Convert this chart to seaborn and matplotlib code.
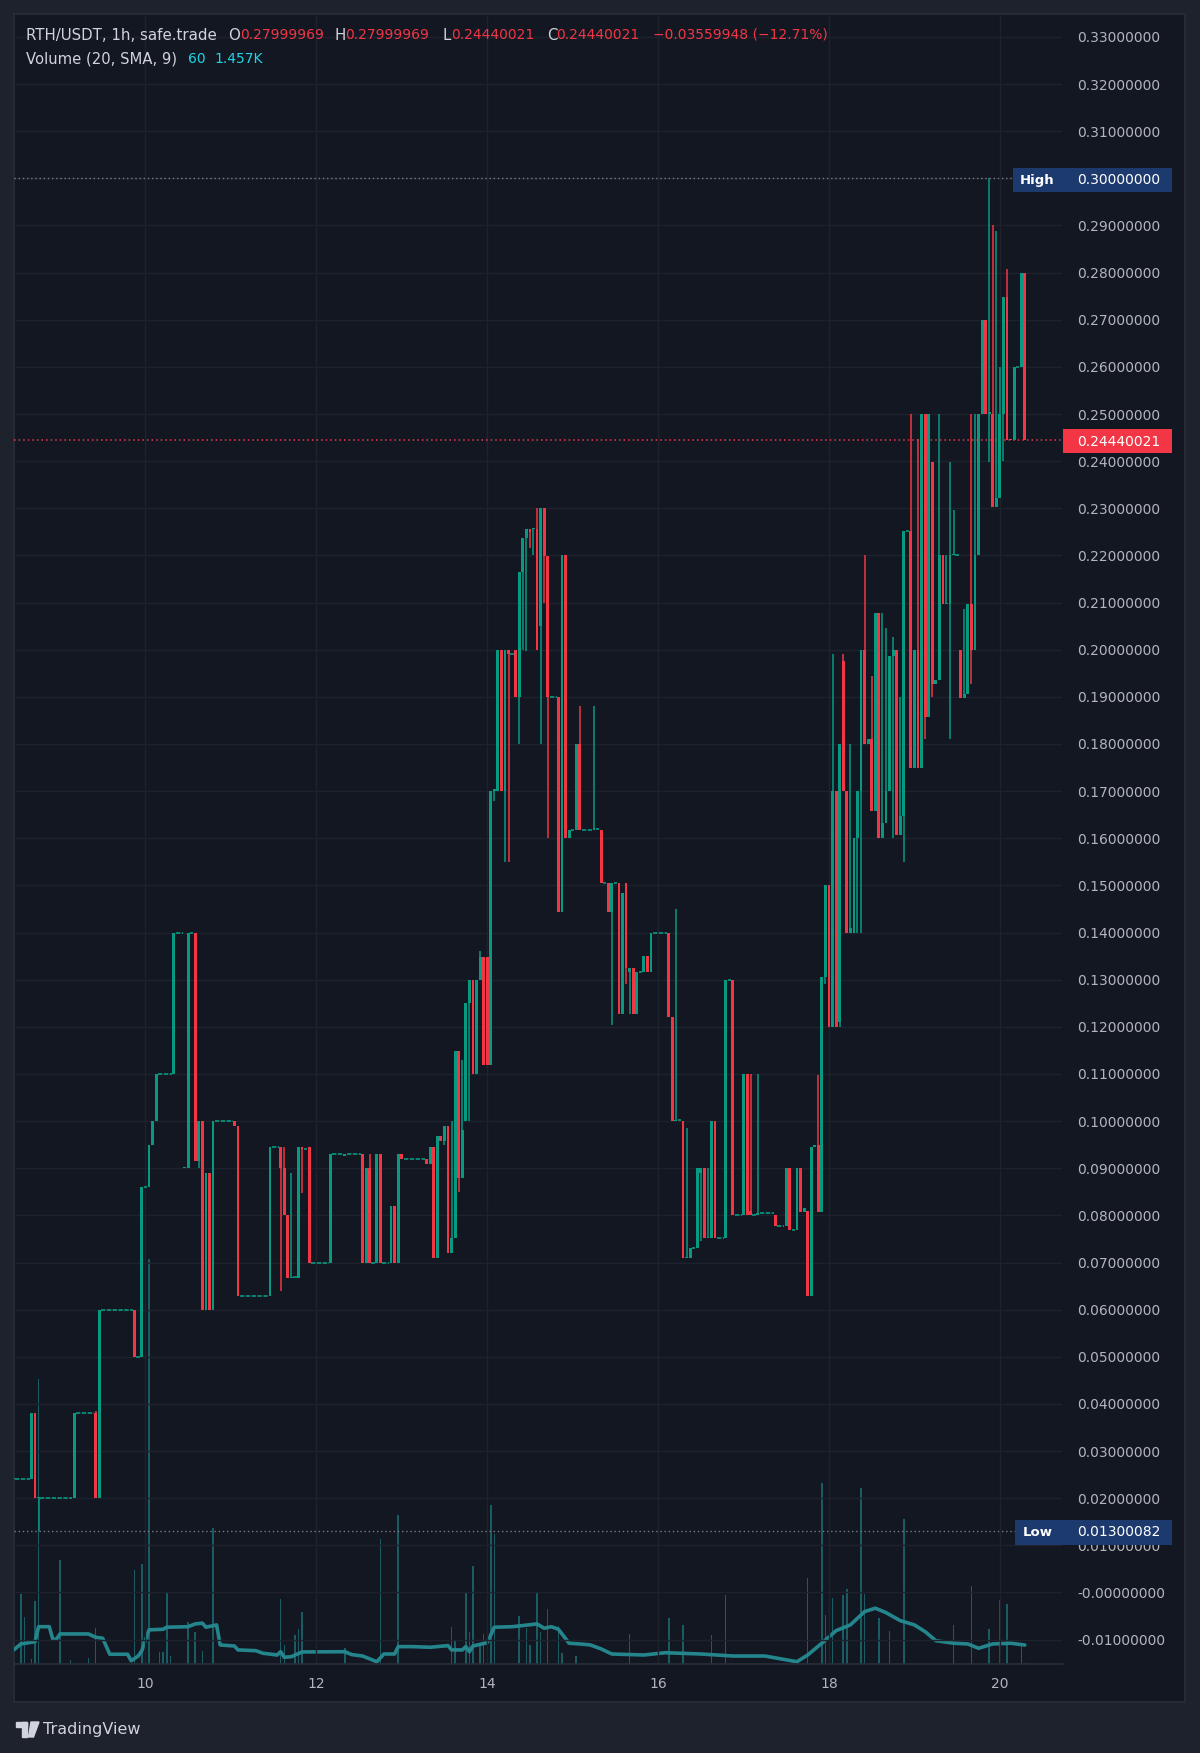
import numpy as np
import pandas as pd
import matplotlib.pyplot as plt
import seaborn as sns
from matplotlib.patches import Rectangle, Polygon

# ---- data (hours counted from day 10, 00:00) ----
candle_hour = [-37, -32, -31, -30, -20, -14, -13, -3, -1, 1, 2, 3, 8, 11, 12, 14, 15, 16, 17, 18, 19,
               25, 26, 35, 38, 39, 40, 41, 43, 44, 46, 52, 56, 61, 62, 63, 65, 66, 69, 70, 71, 72,
               79, 80, 81, 82, 83, 84, 85, 86, 87, 88, 89, 90, 91, 92, 93, 94, 95, 96, 97, 98, 99,
               100, 101, 102, 104, 105, 106, 107, 108, 109, 110, 111, 112, 113, 116, 117, 118, 119,
               121, 122, 126, 128, 130, 131, 133, 134, 135, 136, 137, 138, 140, 141, 142, 147, 148,
               149, 151, 152, 153, 155, 156, 157, 158, 159, 160, 163, 165, 168, 169, 170, 172, 177,
               180, 181, 183, 184, 185, 186, 187, 188, 189, 190, 191, 192, 193, 194, 195, 196, 197,
               198, 199, 200, 201, 202, 203, 204, 205, 206, 207, 208, 209, 210, 211, 212, 213, 215,
               216, 217, 218, 219, 220, 221, 222, 223, 224, 225, 226, 227, 229, 230, 231, 232, 233,
               234, 235, 236, 237, 238, 239, 240, 241, 242, 243, 244, 246, 247]
candle_open = [.0241, .0241, .0381, .020, .020, .038, .020, .060, .050, .086, .095, .100, .110, .090, .090,
               .140, .0915, .100, .060, .089, .060, .100, .099, .063, .0945, .090, .080, .0667, .0667,
               .0945, .0945, .070, .0926, .093, .070, .090, .070, .093, .070, .082, .070, .093, .092,
               .0908, .0946, .0709, .0969, .0958, .099, .0721, .0751, .1149, .0879, .100, .125, .130,
               .110, .130, .1349, .1349, .1119, .170, .170, .200, .170, .200, .200, .190, .2164, .2238,
               .2256, .2256, .2256, .205, .230, .2198, .190, .1443, .220, .160, .1618, .180, .1618,
               .1618, .1505, .1443, .1505, .1228, .1505, .1316, .1324, .1228, .1316, .135, .1316, .140,
               .122, .100, .100, .0709, .0710, .0730, .0890, .0900, .0752, .0752, .1000, .0752, .1300,
               .0800, .1100, .0810, .0800, .0800, .0777, .0900, .0768, .0900, .0808, .0810, .0629,
               .0946, .0950, .0808, .1305, .1500, .1200, .1700, .1210, .1975, .1700, .1400, .1400,
               .1600, .1700, .2000, .1800, .1810, .1657, .2078, .1600, .1633, .1700, .1986, .2000,
               .1606, .1647, .2252, .1748, .2000, .1748, .2500, .1858, .2398, .1928, .1935, .2200,
               .2097, .2097, .2200, .2000, .1898, .1905, .2097, .2000, .2200, .2500, .2700, .2500,
               .2500, .2302, .2322, .2500, .2749, .2448, .2444, .2600, .2800]
candle_high = [.0241, .0381, .0381, .020, .038, .0385, .060, .060, .086, .095, .100, .110, .140, .090, .140,
               .140, .100, .100, .089, .089, .100, .100, .099, .0945, .0945, .0945, .080, .089, .0945,
               .0945, .0945, .093, .093, .093, .090, .093, .093, .093, .082, .082, .093, .093, .092,
               .0946, .0946, .0969, .0969, .099, .099, .100, .1149, .1149, .113, .125, .130, .130,
               .130, .136, .1349, .1349, .170, .170, .200, .200, .200, .200, .200, .2164, .2238, .2256,
               .2256, .2256, .230, .230, .230, .2198, .190, .220, .220, .1618, .180, .188, .188,
               .1618, .1505, .1505, .1505, .1484, .1505, .1324, .1324, .1316, .135, .135, .140, .140,
               .122, .145, .100, .0985, .0730, .0900, .0900, .0900, .0900, .1000, .1000, .1300, .1300,
               .1100, .1100, .1100, .1100, .0800, .0900, .0900, .0900, .0900, .0815, .0810, .0946,
               .0950, .1098, .1305, .1500, .1500, .1990, .1700, .1800, .1990, .1700, .1800, .1600,
               .1700, .2000, .2200, .1810, .1944, .2078, .2078, .2078, .2046, .1986, .2026, .2000,
               .1900, .2252, .2500, .2000, .2448, .2500, .2500, .2500, .2398, .1935, .2500, .2200,
               .2200, .2398, .2297, .2000, .2086, .2097, .2500, .2500, .2500, .2700, .2700, .3000,
               .2900, .2889, .2600, .2749, .2807, .2448, .2600, .2800, .2800]
candle_low = [.0241, .0241, .020, .013, .020, .020, .020, .050, .050, .086, .095, .100, .110, .090, .090,
              .0915, .090, .060, .060, .060, .060, .099, .063, .063, .064, .080, .0667, .0667, .0667,
              .0847, .070, .070, .0926, .070, .070, .070, .070, .070, .070, .070, .070, .092, .0908,
              .0908, .0709, .0709, .0958, .0949, .0721, .0721, .0751, .085, .0879, .100, .100, .110,
              .110, .130, .1119, .1119, .1119, .168, .170, .170, .155, .155, .190, .180, .200, .1997,
              .2215, .220, .200, .180, .210, .160, .1443, .1443, .160, .160, .1618, .1618, .1618,
              .1505, .1443, .1203, .1228, .1228, .129, .1228, .1228, .1228, .1316, .1316, .1316, .122,
              .100, .100, .0709, .0709, .0710, .0730, .0745, .0752, .0752, .0752, .0752, .0752, .0800,
              .0800, .0800, .0800, .0800, .0777, .0777, .0768, .0768, .0808, .0808, .0629, .0629,
              .0946, .0808, .0808, .1291, .1200, .1200, .1200, .1200, .1700, .1400, .1400, .1400,
              .1400, .1400, .1800, .1800, .1657, .1657, .1600, .1600, .1633, .1700, .1600, .1606,
              .1606, .1550, .1748, .1748, .1748, .1748, .1810, .1858, .1900, .1928, .1935, .2097,
              .2097, .1810, .2200, .1898, .1898, .1905, .1928, .2000, .2200, .2500, .2500, .2398,
              .2302, .2302, .2322, .2400, .2444, .2444, .2444, .2600, .2444]
candle_close = [.0241, .0381, .020, .020, .038, .020, .060, .050, .086, .095, .100, .110, .140, .090, .140,
                .0915, .100, .060, .089, .060, .100, .099, .063, .0945, .090, .080, .0667, .0670, .0945,
                .0940, .070, .093, .093, .070, .090, .070, .093, .070, .082, .070, .093, .092, .0908,
                .0946, .0709, .0969, .0958, .099, .0721, .0751, .1149, .0879, .0981, .125, .130, .110,
                .130, .1349, .1119, .1119, .170, .1705, .200, .170, .200, .199, .190, .2164, .2238,
                .2256, .2250, .2256, .200, .230, .2198, .190, .1443, .220, .160, .1618, .180, .1618,
                .1620, .1505, .1443, .1505, .1228, .1484, .1324, .1324, .1228, .1316, .135, .1316, .140,
                .122, .100, .1002, .0709, .0710, .0730, .0900, .0900, .0752, .0755, .1000, .0752, .1300,
                .0800, .1100, .0800, .0800, .0805, .0777, .0900, .0768, .0900, .0808, .0815, .0629,
                .0946, .0950, .0808, .1305, .1500, .1200, .1700, .1200, .1800, .1700, .1400, .1410,
                .1600, .1700, .2000, .1800, .1810, .1657, .2078, .1600, .1633, .1700, .1986, .2000,
                .1606, .1647, .2252, .1748, .2000, .1748, .2500, .1858, .2500, .1928, .1935, .2200,
                .2097, .2100, .2200, .2200, .1898, .1905, .2097, .2000, .2200, .2500, .2700, .2500,
                .2505, .2302, .2322, .2500, .2749, .2444, .2444, .2600, .2800, .2444]

vol_hour = [-35, -34, -32, -31, -30, -24, -21, -16, -14, -3, -1, 1, 4, 5, 6, 7, 12, 14, 16, 19, 38, 39,
            42, 43, 44, 56, 66, 71, 86, 87, 90, 91, 92, 94, 95, 97, 98, 105, 107, 108, 110, 111, 113,
            116, 117, 121, 136, 147, 151, 159, 163, 186, 190, 191, 193, 196, 197, 201, 202, 206, 209,
            213, 227, 232, 237, 240, 242, 246, 247]
vol_value = [5440, 3700, 390, 4890, 22460, 8120, 240, 470, 2760, 7330, 7880, 31910, 870, 870, 5670, 630,
             3310, 2520, 950, 10640, 5120, 1420, 2210, 2680, 4020, 1260, 9850, 11740, 2840, 1810, 5670,
             2520, 7720, 1580, 2360, 12530, 10170, 3780, 2760, 1420, 5520, 2520, 4260, 2990, 790, 630,
             2360, 3620, 3070, 2210, 5360, 6700, 14260, 3860, 5200, 5360, 5910, 13870, 5440, 3620,
             2600, 11350, 3070, 6070, 2680, 5040, 4650, 1650, 60]

sma_hour = [-37, -35, -31, -30, -27, -26, -25, -24, -16, -14, -12, -10, -5, -4, -2, -1, 1, 5, 6, 12, 14,
            16, 17, 20, 21, 25, 26, 31, 33, 37, 38, 39, 41, 44, 56, 58, 61, 65, 67, 70, 71, 75, 80, 85,
            86, 89, 90, 91, 92, 96, 98, 103, 105, 110, 112, 114, 116, 119, 123, 125, 128, 131, 140, 146,
            156, 165, 174, 183, 186, 190, 194, 198, 202, 205, 208, 212, 216, 219, 222, 227, 231, 234,
            238, 243, 247]
sma_value = [1065, 1540, 1720, 2900, 2900, 1910, 1910, 2330, 2330, 2070, 1990, 730, 730, 220, 590, 1010,
             2650, 2700, 2860, 2900, 3120, 3180, 2860, 3040, 1460, 1380, 1070, 1010, 810, 670, 930, 490,
             540, 910, 930, 700, 590, 140, 750, 750, 1330, 1330, 1280, 1410, 1070, 1070, 1330, 930, 1380,
             1640, 2860, 2900, 2960, 3120, 2780, 2900, 2700, 1600, 1520, 1460, 1150, 750, 670, 850, 750,
             590, 590, 140, 670, 1600, 2590, 3040, 4090, 4360, 4010, 3380, 3040, 2510, 1800, 1600, 1540,
             1200, 1540, 1600, 1457]

price_ticks = [round(0.33 - 0.01 * i, 2) for i in range(35)]
day_ticks = [10, 12, 14, 16, 18, 20]
high_price, low_price, last_price = 0.30, 0.01300082, 0.24440021

# ---- look ----
W, H = 1200, 1753
PAGE = '#1e222d'
CHART = '#131722'
FRAME = '#2a2e39'
GRID = '#1e222d'
TXT = '#b2b5be'
UP = '#089981'
DOWN = '#f23645'
BOX = '#1d3a6e'

sns.set_theme(style='dark', rc={'axes.facecolor': CHART, 'figure.facecolor': PAGE})
plt.rcParams['font.family'] = ['DejaVu Sans']


def fx(x):
    return x / W


def fy(y):
    return 1 - y / H


def ftext(x, y, s, **kw):
    kw.setdefault('va', 'center')
    kw.setdefault('fontsize', 10)
    fig.text(fx(x), fy(y), s, zorder=6, **kw)


fig = plt.figure(figsize=(W / 100, H / 100), dpi=100)
fig.patch.set_facecolor(PAGE)

# chart panel background + frame
fig.add_artist(Rectangle((fx(13.5), fy(1702)), fx(1185) - fx(13.5), fy(14) - fy(1702),
                         transform=fig.transFigure, facecolor=CHART, edgecolor=FRAME, lw=1.2, zorder=-2))

ax_rect = [fx(14), fy(1663.5), fx(1062) - fx(14), fy(14) - fy(1663.5)]
axv = fig.add_axes(ax_rect)
ax = fig.add_axes(ax_rect, sharex=axv)
for a in (ax, axv):
    a.patch.set_alpha(0)
    for s in a.spines.values():
        s.set_visible(False)

df = pd.DataFrame({'hour': candle_hour, 'open': candle_open, 'high': candle_high,
                   'low': candle_low, 'close': candle_close})
df['day'] = 10 + df['hour'] / 24
df['up'] = df['close'] >= df['open']
df['color'] = np.where(df['up'], UP, DOWN)

px = 1 / 4714  # one pixel in price units
body_w = 0.8 / 24

# flat hours between active candles
for i in range(len(df) - 1):
    if df['hour'][i + 1] - df['hour'][i] > 1:
        ax.hlines(df['close'][i], df['day'][i] + 0.5 / 24, df['day'][i + 1] - 0.5 / 24,
                  colors=UP, lw=1.2, linestyles=(0, (2.6, 0.9)), zorder=3)

ax.vlines(df['day'], df['low'], df['high'], colors=df['color'], lw=1.1, zorder=3)
bottoms = np.minimum(df['open'], df['close'])
heights = np.maximum((df['close'] - df['open']).abs(), px * 1.3)
ax.bar(df['day'], heights, bottom=bottoms, width=body_w, color=df['color'], linewidth=0, zorder=4)

# volume + sma
vol_df = pd.DataFrame({'day': 10 + np.array(vol_hour) / 24, 'vol': vol_value})
axv.bar(vol_df['day'], vol_df['vol'], width=0.42 / 24, color='#22a0a6', alpha=0.5, linewidth=0, zorder=1)
sma_df = pd.DataFrame({'day': 10 + np.array(sma_hour) / 24, 'sma': sma_value})
sns.lineplot(data=sma_df, x='day', y='sma', ax=axv, color='#24868c', linewidth=2.6,
             estimator=None, zorder=2)
axv.set_ylim(0, 130000)
axv.set_yticks([])
axv.set_xlabel('')
axv.set_ylabel('')

# price lines
ax.axhline(high_price, xmax=(1013 - 14) / (1062 - 14), color='#787b86', lw=1, ls=(0, (1, 2)), zorder=2)
ax.axhline(low_price, xmax=(1015 - 14) / (1062 - 14), color='#787b86', lw=1, ls=(0, (1, 2)), zorder=2)
ax.axhline(last_price, color=DOWN, lw=1.1, ls=(0, (1, 2)), zorder=2)

ax.set_xlim(8.4623, 20.7267)
ax.set_ylim(-0.015062, 0.334854)
ax.set_yticks(price_ticks)
ax.set_yticklabels(['-0.00000000' if abs(v) < 1e-9 else f'{v:.8f}' for v in price_ticks])
ax.yaxis.tick_right()
ax.set_xticks(day_ticks)
ax.set_xticklabels([str(d) for d in day_ticks])
ax.tick_params(axis='y', length=0, pad=10.8, labelsize=10, labelcolor=TXT)
ax.tick_params(axis='x', length=0, pad=9.5, labelsize=10, labelcolor=TXT)
ax.grid(True, color=GRID, lw=1)
ax.set_axisbelow(True)
ax.set_xlabel('')
ax.set_ylabel('')
axv.tick_params(axis='x', length=0, labelbottom=False)

# separator under the plot
fig.add_artist(plt.Line2D([fx(14), fx(1063)], [fy(1663.5), fy(1663.5)], transform=fig.transFigure,
                          color=FRAME, lw=1.2, zorder=5))


# price boxes
def box(x0, y0, x1, y1, color):
    fig.add_artist(Rectangle((fx(x0), fy(y1)), fx(x1) - fx(x0), fy(y0) - fy(y1),
                             transform=fig.transFigure, facecolor=color, edgecolor='none', zorder=5))


box(1013, 168, 1172, 192, BOX)
ftext(1020, 180.5, 'High', color='white', fontweight='bold', fontsize=9.5)
ftext(1077, 180.5, '0.30000000', color='white')
box(1063, 429, 1172, 453, DOWN)
ftext(1077, 441.5, '0.24440021', color='white')
box(1015, 1520, 1172, 1545, BOX)
ftext(1023, 1532.5, 'Low', color='white', fontweight='bold', fontsize=9.5)
ftext(1077, 1532.5, '0.01300082', color='white')

# header
HS = 10.8
ftext(25.5, 35, 'RTH/USDT, 1h, safe.trade', color='#d1d4dc', fontsize=HS)
for lx, lab, vx, val in [(228, 'O', 240, '0.27999969'), (334, 'H', 345, '0.27999969'),
                         (443, 'L', 451, '0.24440021'), (547, 'C', 556, '0.24440021')]:
    ftext(lx, 35, lab, color='#d1d4dc', fontsize=HS)
    ftext(vx, 35, val, color=DOWN, fontsize=10)
ftext(653, 35, '\u22120.03559948 (\u221212.71%)', color=DOWN, fontsize=10)
ftext(25.5, 59, 'Volume (20, SMA, 9)', color='#d1d4dc', fontsize=10.6)
ftext(188, 59, '60', color='#22d3e6', fontsize=10)
ftext(214, 59, '1.457K', color='#22d3e6', fontsize=10)

# logo
logo = '#d1d4dc'
fig.add_artist(Rectangle((fx(16), fy(1727)), fx(27) - fx(16), fy(1722) - fy(1727),
                         transform=fig.transFigure, color=logo, zorder=5))
fig.add_artist(Rectangle((fx(21.5), fy(1737)), fx(26.5) - fx(21.5), fy(1722) - fy(1737),
                         transform=fig.transFigure, color=logo, zorder=5))
fig.add_artist(Polygon([(fx(31), fy(1722)), (fx(39), fy(1722)), (fx(33.5), fy(1737)), (fx(28.5), fy(1737))],
                       closed=True, transform=fig.transFigure, color=logo, zorder=5))
ftext(43, 1729.5, 'TradingView', color=logo, fontsize=11.5)

fig.savefig('out.png', dpi=100, facecolor=PAGE)
